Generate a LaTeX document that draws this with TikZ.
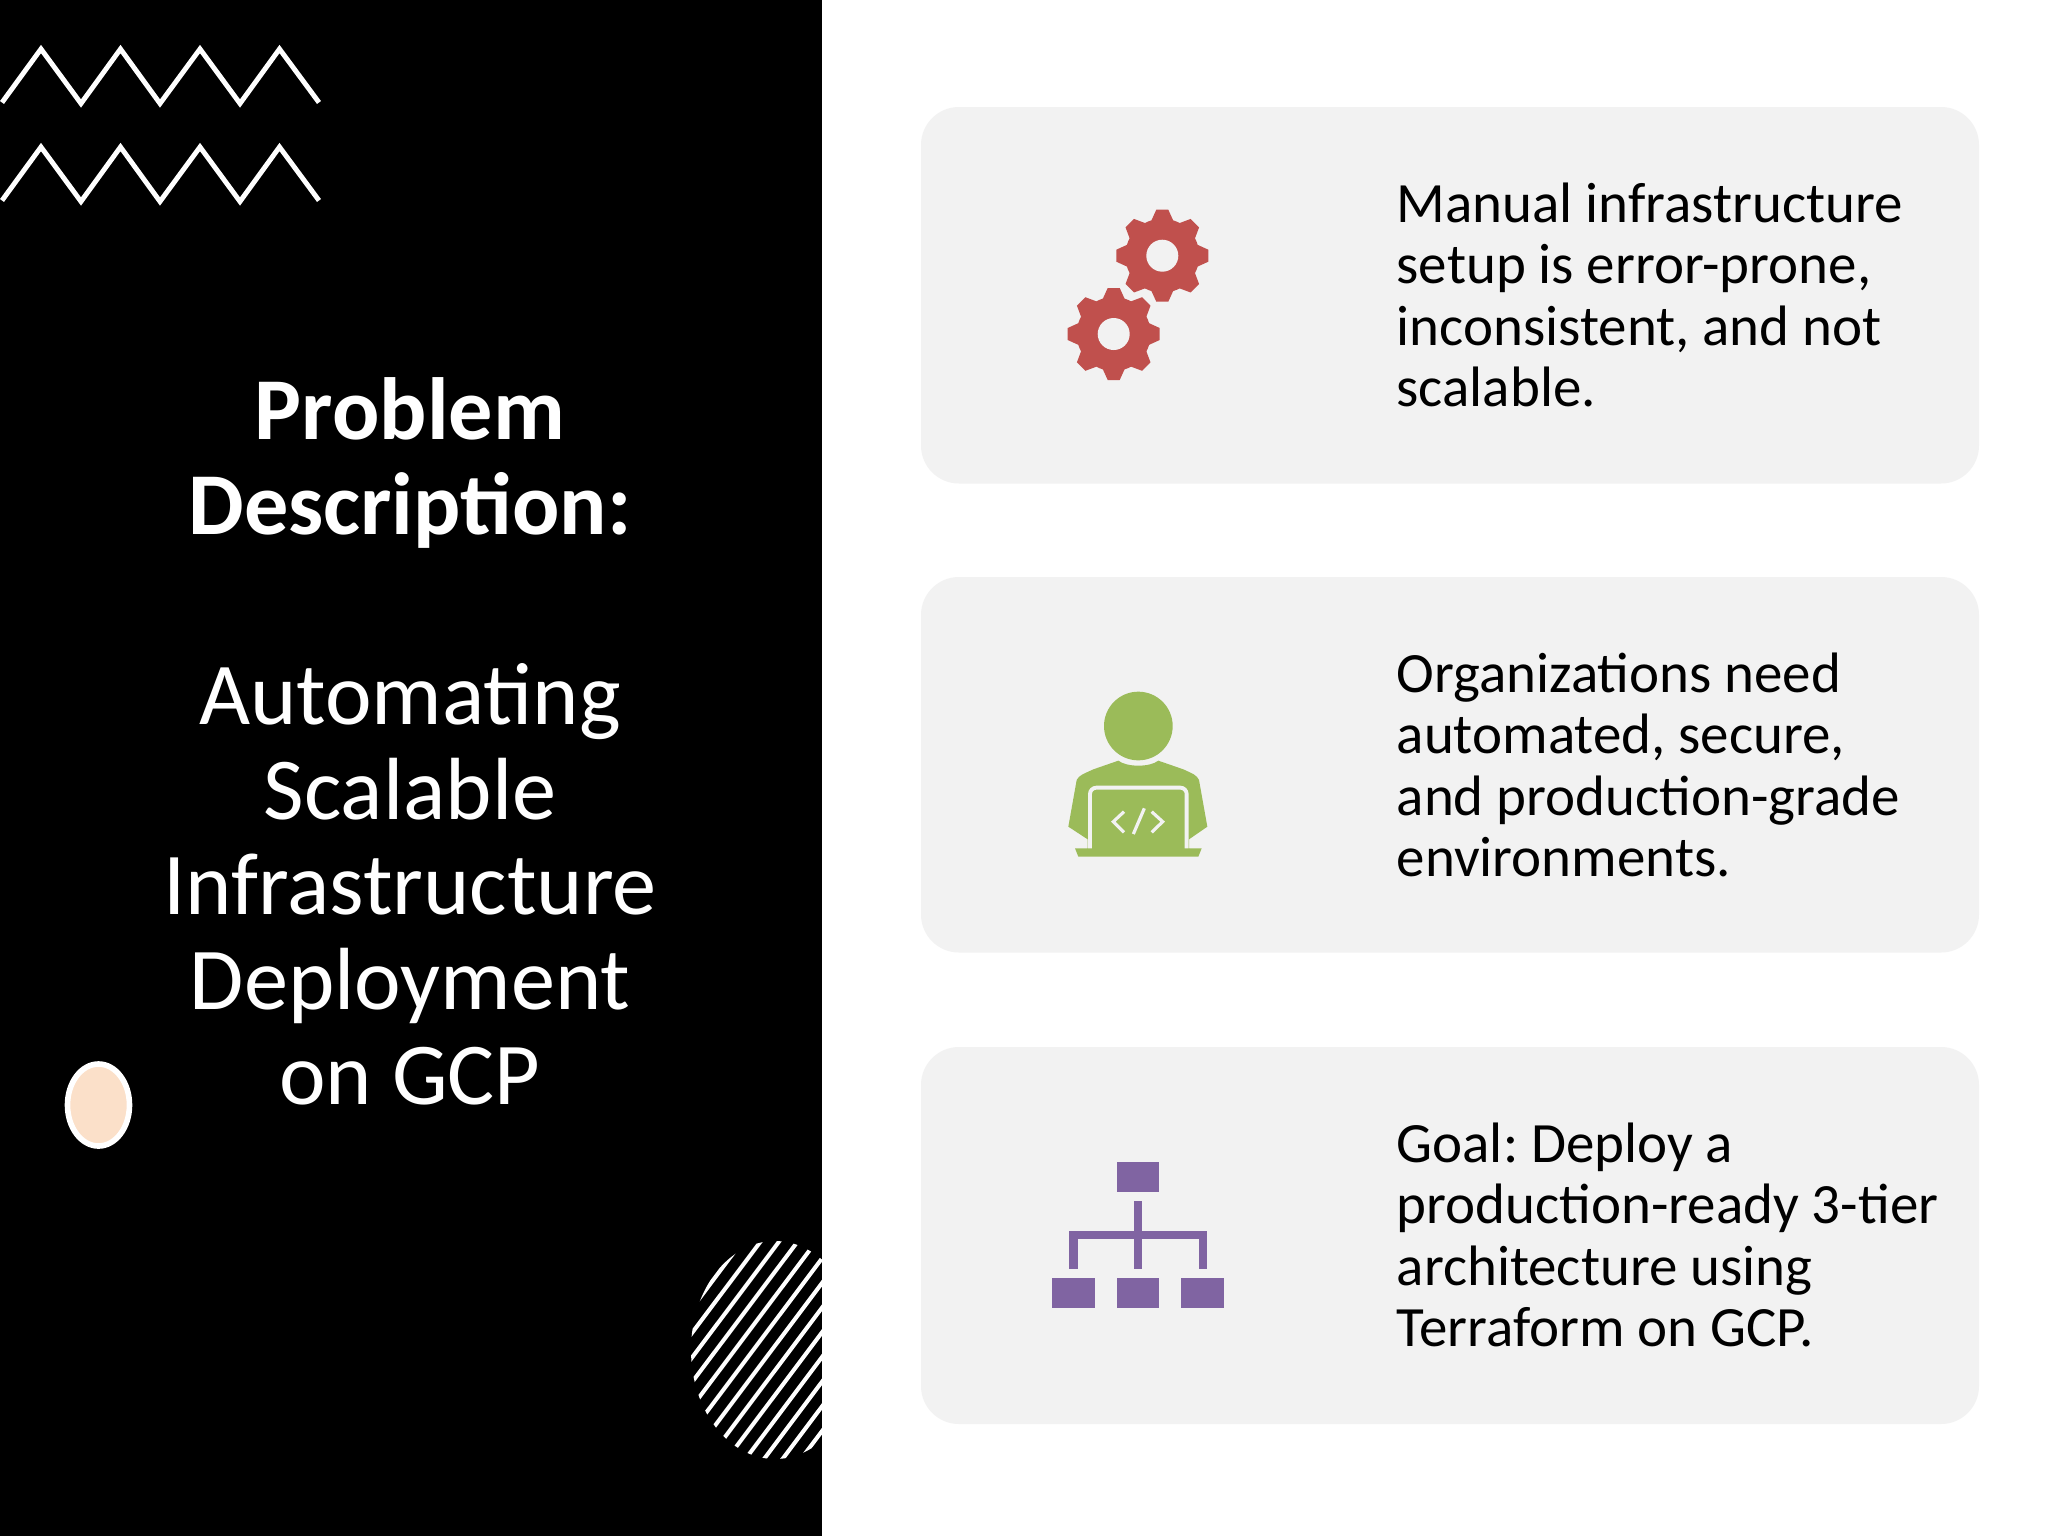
\documentclass[tikz,border=0pt]{standalone}
\usepackage{fontspec}
\setmainfont{Carlito}
\frenchspacing
\definecolor{cardgray}{HTML}{F2F2F2}
\definecolor{gearred}{HTML}{C0504D}
\definecolor{persongreen}{HTML}{9BBB59}
\definecolor{treepurple}{HTML}{8064A2}
\definecolor{dotpeach}{HTML}{FBE0C9}
\tikzset{
	card/.style={fill=cardgray,rounded corners=10.8pt},
	zigzag/.style={draw=white,line width=1.4pt,line join=miter},
	headtext/.style={text=white,align=center,inner sep=0pt,font=\fontsize{25.1}{27}\selectfont\bfseries},
	subtext/.style={text=white,align=center,inner sep=0pt,font=\fontsize{25.1}{27}\selectfont},
	cardtext/.style={text=black,align=left,anchor=west,inner sep=0pt,font=\fontsize{16.2}{17.46}\selectfont},
	cog/.pic={
		\fill[gearred] (0,0) circle (37);
		\foreach \a in {0,45,...,315}
			\fill[gearred,rotate=\a] (-11,-35) -- (-6,-46) -- (6,-46) -- (11,-35) -- cycle;
		\fill[cardgray] (0,0) circle (16);
	},
}
\begin{document}
\begin{tikzpicture}[x=0.01cm,y=-0.01cm]
	\useasboundingbox (0,0) rectangle (2048,1536);
	\fill[white] (0,0) rectangle (2048,1536);
	\fill[black] (0,0) rectangle (822,1536);
	% zigzags
	\foreach \dy in {0,98}
		\draw[zigzag] (2,102.5+\dy) -- (41,49+\dy) -- (81,103.5+\dy) -- (120.5,49+\dy) -- (160,103.5+\dy) -- (200,49+\dy) -- (240,103.5+\dy) -- (279.5,49+\dy) -- (319,102.5+\dy);
	% dot
	\draw[fill=dotpeach,draw=white,line width=1.6pt] (98.5,1105) ellipse (31 and 41);
	% striped circle
	\begin{scope}
		\clip (0,1200) rectangle (822,1500);
		\clip (775,1350) ellipse (84 and 109);
		\foreach \i in {0,...,12}
			\draw[white,line width=1.15pt] (680,2230+24.67*\i-905.8) -- (830,2230+24.67*\i-1105.6);
	\end{scope}
	% title
	\node[headtext] (title) at (410,462.5) {Problem\\Description:};
	\node[subtext] (subtitle) at (410,884.5) {Automating\\Scalable\\Infrastructure\\Deployment\\on GCP};
	% cards
	\fill[card] (921,107) rectangle (1979,483.5);
	\fill[card] (921,577) rectangle (1979,952.5);
	\fill[card] (921,1047) rectangle (1979,1424);
	\node[cardtext] (problem) at (1396,295) {Manual infrastructure\\setup is error-prone,\\inconsistent, and not\\scalable.};
	\node[cardtext] (need) at (1396,765) {Organizations need\\automated, secure,\\and production-grade\\environments.};
	\node[cardtext] (goal) at (1396,1235) {Goal: Deploy a\\production-ready 3-tier\\architecture using\\Terraform on GCP.};
	% gears
	\pic at (1162.3,255.7) {cog};
	\pic at (1113.7,334) {cog};
	% person
	\begin{scope}[shift={(1050,680)},scale=1/3]
		\fill[persongreen] (265,138) circle (103);
		\fill[persongreen] (205,242) .. controls (230,262) and (300,262) .. (325,242) -- (400,268) .. controls (430,282) and (440,285) .. (447,300) -- (472,440) -- (417,478) -- (417,505) -- (455,505) -- (445,530) -- (85,530) -- (75,505) -- (113,505) -- (113,478) -- (55,440) -- (80,300) .. controls (88,285) and (100,282) .. (130,268) -- cycle;
		\draw[cardgray,line width=1.1pt,rounded corners=1.8pt] (120,505) -- (120,323) -- (410,323) -- (410,505);
		\draw[cardgray,line width=0.9pt,line join=miter] (222,395) -- (190,425) -- (222,457);
		\draw[cardgray,line width=0.9pt] (283,385) -- (250,462);
		\draw[cardgray,line width=0.9pt,line join=miter] (305,395) -- (338,425) -- (305,457);
	\end{scope}
	% hierarchy
	\begin{scope}[shift={(1040,1150)},scale=1/3,treepurple]
		\fill (230,35) rectangle (358,125);
		\fill (35,385) rectangle (165,475);
		\fill (230,385) rectangle (358,475);
		\fill (424,385) rectangle (553,475);
		\fill (282,152) rectangle (307,358);
		\fill (87,242) rectangle (502,268);
		\fill (87,242) rectangle (113,358);
		\fill (476,242) rectangle (502,358);
	\end{scope}
\end{tikzpicture}
\end{document}
